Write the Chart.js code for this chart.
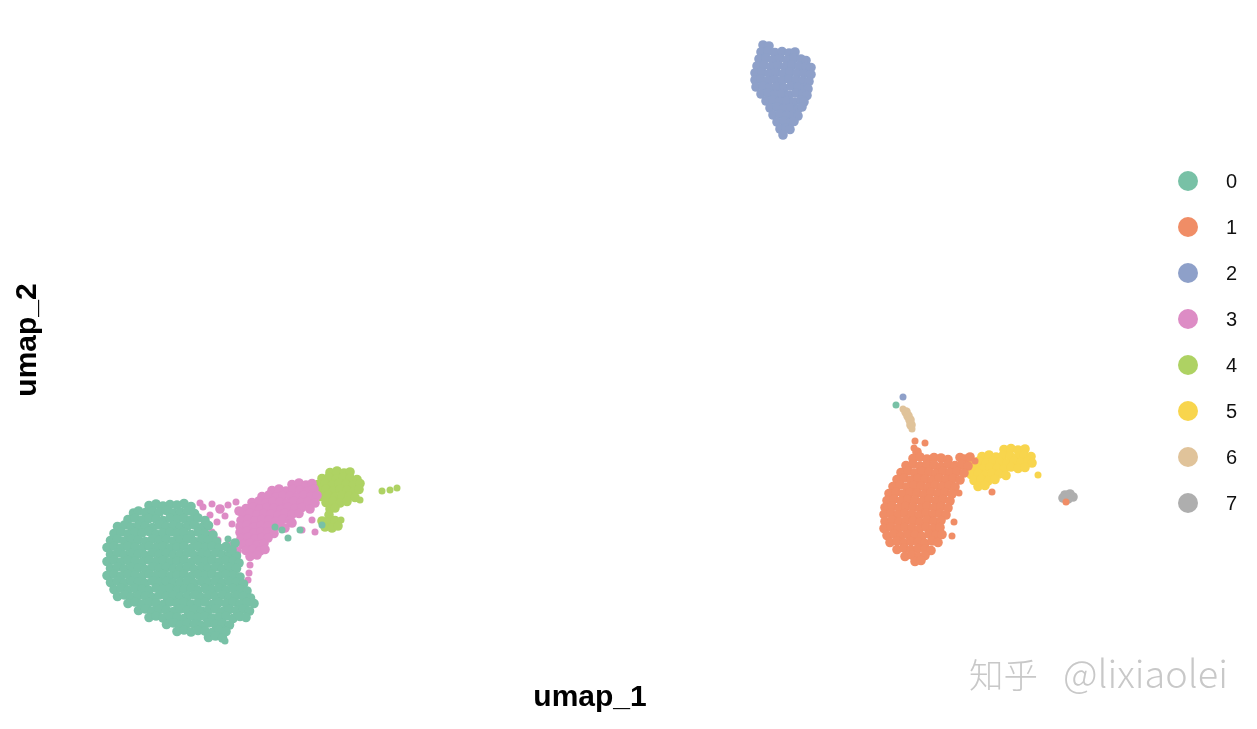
<!DOCTYPE html>
<html>
<head>
<meta charset="utf-8">
<title>umap</title>
<script src="https://cdn.jsdelivr.net/npm/chart.js@4.4.0/dist/chart.umd.min.js"></script>
<style>
html, body { margin: 0; padding: 0; background: #fff; }
#wrap { width: 1257px; height: 729px; position: relative; }
</style>
</head>
<body>
<div id="wrap"><canvas id="chart-umap"></canvas></div>
<script>
//cluster names + colours (Set2 as it looks in the picture)
var clusters = ['0', '1', '2', '3', '4', '5', '6', '7'];
var colors = ['#78C1A6', '#F08D66', '#8EA0C9', '#DD8CC5', '#AED263', '#F8D54D', '#E0C39A', '#AEAEAE'];

//umap coordinates, [umap_1, umap_2]
var umap0 = [
  [-9.02,-3.11],[-8.88,-3.08],[-8.74,-3.12],[-8.60,-3.09],[-8.46,-3.10],[-8.32,-3.07],[-8.18,-3.13],
  [-9.33,-3.26],[-9.23,-3.22],[-9.09,-3.25],[-8.95,-3.23],[-8.81,-3.24],[-8.67,-3.21],[-8.53,-3.26],[-8.39,-3.24],[-8.25,-3.22],[-8.11,-3.27],
  [-9.44,-3.39],[-9.30,-3.36],[-9.16,-3.40],[-9.02,-3.37],[-8.88,-3.38],[-8.74,-3.41],[-8.60,-3.36],[-8.46,-3.39],[-8.32,-3.37],[-8.18,-3.40],[-8.04,-3.36],[-7.90,-3.41],
  [-9.65,-3.53],[-9.51,-3.50],[-9.37,-3.54],[-9.23,-3.51],[-9.09,-3.52],[-8.95,-3.55],[-8.81,-3.50],[-8.67,-3.53],[-8.53,-3.51],[-8.39,-3.54],[-8.25,-3.52],[-8.11,-3.50],[-7.97,-3.55],[-7.83,-3.51],
  [-9.72,-3.67],[-9.58,-3.64],[-9.44,-3.68],[-9.30,-3.65],[-9.16,-3.66],[-9.02,-3.63],[-8.88,-3.68],[-8.74,-3.66],[-8.60,-3.64],[-8.46,-3.67],[-8.32,-3.65],[-8.18,-3.69],[-8.04,-3.64],[-7.90,-3.67],[-7.74,-3.70],
  [-9.79,-3.81],[-9.65,-3.78],[-9.51,-3.82],[-9.37,-3.79],[-9.23,-3.80],[-9.09,-3.83],[-8.95,-3.78],[-8.81,-3.81],[-8.67,-3.79],[-8.53,-3.82],[-8.39,-3.80],[-8.25,-3.78],[-8.11,-3.83],[-7.97,-3.79],[-7.83,-3.81],[-7.67,-3.84],
  [-9.86,-3.95],[-9.72,-3.92],[-9.58,-3.96],[-9.44,-3.93],[-9.30,-3.94],[-9.16,-3.97],[-9.02,-3.92],[-8.88,-3.95],[-8.74,-3.93],[-8.60,-3.96],[-8.46,-3.94],[-8.32,-3.92],[-8.18,-3.97],[-8.04,-3.93],[-7.90,-3.95],[-7.76,-3.92],[-7.62,-3.96],[-7.48,-3.93],
  [-9.79,-4.09],[-9.65,-4.06],[-9.51,-4.10],[-9.37,-4.07],[-9.23,-4.08],[-9.09,-4.11],[-8.95,-4.06],[-8.81,-4.09],[-8.67,-4.07],[-8.53,-4.10],[-8.39,-4.08],[-8.25,-4.06],[-8.11,-4.11],[-7.97,-4.07],[-7.83,-4.09],[-7.69,-4.06],[-7.55,-4.10],[-7.41,-4.08],[-7.27,-4.12],
  [-9.86,-4.23],[-9.72,-4.20],[-9.58,-4.24],[-9.44,-4.21],[-9.30,-4.22],[-9.16,-4.25],[-9.02,-4.20],[-8.88,-4.23],[-8.74,-4.21],[-8.60,-4.24],[-8.46,-4.22],[-8.32,-4.20],[-8.18,-4.25],[-8.04,-4.21],[-7.90,-4.23],[-7.76,-4.20],[-7.62,-4.24],[-7.48,-4.21],[-7.34,-4.22],[-7.22,-4.26],
  [-9.79,-4.37],[-9.65,-4.34],[-9.51,-4.38],[-9.37,-4.35],[-9.23,-4.36],[-9.09,-4.39],[-8.95,-4.34],[-8.81,-4.37],[-8.67,-4.35],[-8.53,-4.38],[-8.39,-4.36],[-8.25,-4.34],[-8.11,-4.39],[-7.97,-4.35],[-7.83,-4.37],[-7.69,-4.34],[-7.55,-4.38],[-7.41,-4.35],[-7.27,-4.37],
  [-9.86,-4.51],[-9.72,-4.48],[-9.58,-4.52],[-9.44,-4.49],[-9.30,-4.50],[-9.16,-4.53],[-9.02,-4.48],[-8.88,-4.51],[-8.74,-4.49],[-8.60,-4.52],[-8.46,-4.50],[-8.32,-4.48],[-8.18,-4.53],[-8.04,-4.49],[-7.90,-4.51],[-7.76,-4.48],[-7.62,-4.52],[-7.48,-4.49],[-7.34,-4.51],[-7.20,-4.54],
  [-9.79,-4.65],[-9.65,-4.62],[-9.51,-4.66],[-9.37,-4.63],[-9.23,-4.64],[-9.09,-4.67],[-8.95,-4.62],[-8.81,-4.65],[-8.67,-4.63],[-8.53,-4.66],[-8.39,-4.64],[-8.25,-4.62],[-8.11,-4.67],[-7.97,-4.63],[-7.83,-4.65],[-7.69,-4.62],[-7.55,-4.66],[-7.41,-4.63],[-7.27,-4.65],[-7.13,-4.68],
  [-9.72,-4.79],[-9.58,-4.76],[-9.44,-4.80],[-9.30,-4.77],[-9.16,-4.78],[-9.02,-4.81],[-8.88,-4.76],[-8.74,-4.79],[-8.60,-4.77],[-8.46,-4.80],[-8.32,-4.78],[-8.18,-4.76],[-8.04,-4.81],[-7.90,-4.77],[-7.76,-4.79],[-7.62,-4.76],[-7.48,-4.80],[-7.34,-4.77],[-7.20,-4.79],[-7.06,-4.82],
  [-9.65,-4.93],[-9.51,-4.90],[-9.37,-4.94],[-9.23,-4.91],[-9.09,-4.92],[-8.95,-4.95],[-8.81,-4.90],[-8.67,-4.93],[-8.53,-4.91],[-8.39,-4.94],[-8.25,-4.92],[-8.11,-4.90],[-7.97,-4.95],[-7.83,-4.91],[-7.69,-4.93],[-7.55,-4.90],[-7.41,-4.94],[-7.27,-4.91],[-7.13,-4.93],[-6.99,-4.96],
  [-9.44,-5.07],[-9.30,-5.04],[-9.16,-5.08],[-9.02,-5.05],[-8.88,-5.06],[-8.74,-5.09],[-8.60,-5.04],[-8.46,-5.07],[-8.32,-5.05],[-8.18,-5.08],[-8.04,-5.06],[-7.90,-5.04],[-7.76,-5.09],[-7.62,-5.05],[-7.48,-5.07],[-7.34,-5.04],[-7.20,-5.08],[-7.06,-5.05],[-6.92,-5.07],
  [-9.23,-5.21],[-9.09,-5.18],[-8.95,-5.22],[-8.81,-5.19],[-8.67,-5.20],[-8.53,-5.23],[-8.39,-5.18],[-8.25,-5.21],[-8.11,-5.19],[-7.97,-5.22],[-7.83,-5.20],[-7.69,-5.18],[-7.55,-5.23],[-7.41,-5.19],[-7.27,-5.21],[-7.13,-5.18],[-7.01,-5.22],
  [-9.02,-5.35],[-8.88,-5.32],[-8.74,-5.36],[-8.60,-5.33],[-8.46,-5.34],[-8.32,-5.37],[-8.18,-5.32],[-8.04,-5.35],[-7.90,-5.33],[-7.76,-5.36],[-7.62,-5.34],[-7.48,-5.32],[-7.34,-5.37],[-7.20,-5.33],[-7.08,-5.35],
  [-8.67,-5.49],[-8.53,-5.46],[-8.39,-5.50],[-8.25,-5.47],[-8.11,-5.48],[-7.97,-5.51],[-7.83,-5.46],[-7.69,-5.49],[-7.55,-5.47],[-7.41,-5.50],
  [-8.46,-5.63],[-8.32,-5.60],[-8.18,-5.64],[-8.04,-5.61],[-7.90,-5.62],[-7.76,-5.65],[-7.62,-5.60],[-7.48,-5.63],
  [-7.83,-5.75],[-7.69,-5.72],[-7.55,-5.76],[-7.50,-5.82],
  [-7.44,-3.78],[-7.30,-3.86],[-7.36,-4.00],[-6.50,-3.54],[-6.36,-3.60],[-6.24,-3.76],[-6.00,-3.60],[-5.56,-3.50],
  [5.92,-1.10]
];
var umap1 = [
  [6.30,-1.82],[6.50,-1.86],[6.34,-2.04],[6.28,-1.96],
  [6.26,-2.17],[6.40,-2.14],[6.54,-2.18],[6.68,-2.15],[6.82,-2.16],[6.96,-2.19],[7.20,-2.15],[7.30,-2.18],
  [6.12,-2.31],[6.26,-2.28],[6.40,-2.32],[6.54,-2.29],[6.68,-2.30],[6.82,-2.33],[6.96,-2.28],[7.10,-2.31],[7.24,-2.29],[7.36,-2.32],
  [6.02,-2.45],[6.16,-2.42],[6.30,-2.46],[6.44,-2.43],[6.58,-2.44],[6.72,-2.47],[6.86,-2.42],[7.00,-2.45],[7.14,-2.43],[7.28,-2.46],
  [5.94,-2.59],[6.08,-2.56],[6.22,-2.60],[6.36,-2.57],[6.50,-2.58],[6.64,-2.61],[6.78,-2.56],[6.92,-2.59],[7.06,-2.57],[7.20,-2.60],
  [5.86,-2.73],[6.00,-2.70],[6.14,-2.74],[6.28,-2.71],[6.42,-2.72],[6.56,-2.75],[6.70,-2.70],[6.84,-2.73],[6.98,-2.71],[7.10,-2.74],
  [5.78,-2.87],[5.92,-2.84],[6.06,-2.88],[6.20,-2.85],[6.34,-2.86],[6.48,-2.89],[6.62,-2.84],[6.76,-2.87],[6.90,-2.85],[7.04,-2.88],[7.18,-2.86],
  [5.74,-3.01],[5.88,-2.98],[6.02,-3.02],[6.16,-2.99],[6.30,-3.00],[6.44,-3.03],[6.58,-2.98],[6.72,-3.01],[6.86,-2.99],[7.00,-3.02],
  [5.70,-3.15],[5.84,-3.12],[5.98,-3.16],[6.12,-3.13],[6.26,-3.14],[6.40,-3.17],[6.54,-3.12],[6.68,-3.15],[6.82,-3.13],[6.96,-3.16],
  [5.68,-3.29],[5.82,-3.26],[5.96,-3.30],[6.10,-3.27],[6.24,-3.28],[6.38,-3.31],[6.52,-3.26],[6.66,-3.29],[6.80,-3.27],[6.92,-3.30],
  [5.70,-3.43],[5.84,-3.40],[5.98,-3.44],[6.12,-3.41],[6.26,-3.42],[6.40,-3.45],[6.54,-3.40],[6.68,-3.43],[6.82,-3.41],[7.08,-3.44],
  [5.68,-3.57],[5.82,-3.54],[5.96,-3.58],[6.10,-3.55],[6.24,-3.56],[6.38,-3.59],[6.52,-3.54],[6.66,-3.57],[6.80,-3.55],
  [5.74,-3.71],[5.88,-3.68],[6.02,-3.72],[6.16,-3.69],[6.30,-3.70],[6.44,-3.73],[6.58,-3.68],[6.72,-3.71],[6.84,-3.69],[7.04,-3.72],
  [5.80,-3.85],[5.94,-3.82],[6.08,-3.86],[6.22,-3.83],[6.36,-3.84],[6.50,-3.87],[6.64,-3.82],[6.76,-3.85],
  [5.94,-3.99],[6.08,-3.96],[6.22,-4.00],[6.36,-3.97],[6.50,-3.98],[6.62,-4.01],
  [6.10,-4.13],[6.24,-4.10],[6.38,-4.14],[6.50,-4.11],
  [6.30,-4.23],[6.42,-4.21],
  [7.40,-2.14],[7.50,-2.22],[7.84,-2.84],[9.32,-3.04]
];
var umap2 = [
  [3.26,6.10],[3.38,6.08],
  [3.22,5.96],[3.36,5.98],[3.50,5.95],[3.64,5.97],[3.78,5.94],[3.90,5.96],
  [3.18,5.82],[3.32,5.84],[3.46,5.81],[3.60,5.83],[3.74,5.80],[3.88,5.84],[4.02,5.82],[4.12,5.79],
  [3.14,5.68],[3.28,5.70],[3.42,5.67],[3.56,5.69],[3.70,5.66],[3.84,5.70],[3.98,5.68],[4.12,5.67],[4.22,5.65],
  [3.10,5.54],[3.24,5.56],[3.38,5.53],[3.52,5.55],[3.66,5.52],[3.80,5.56],[3.94,5.54],[4.08,5.53],[4.22,5.51],
  [3.10,5.40],[3.22,5.42],[3.36,5.39],[3.50,5.41],[3.64,5.38],[3.78,5.42],[3.92,5.40],[4.06,5.39],[4.18,5.37],
  [3.12,5.26],[3.26,5.28],[3.40,5.25],[3.54,5.27],[3.68,5.24],[3.82,5.28],[3.96,5.26],[4.10,5.25],[4.16,5.22],
  [3.22,5.12],[3.36,5.14],[3.50,5.11],[3.64,5.13],[3.78,5.10],[3.92,5.14],[4.06,5.12],[4.14,5.09],
  [3.32,4.98],[3.46,5.00],[3.60,4.97],[3.74,4.99],[3.88,4.96],[4.02,5.00],[4.08,4.96],
  [3.40,4.84],[3.54,4.86],[3.68,4.83],[3.82,4.85],[3.96,4.82],[4.04,4.86],
  [3.46,4.70],[3.60,4.72],[3.74,4.69],[3.88,4.71],[3.96,4.68],
  [3.54,4.56],[3.68,4.58],[3.82,4.55],[3.88,4.57],
  [3.60,4.42],[3.72,4.44],[3.80,4.41],
  [3.66,4.30],
  [6.06,-0.94]
];
var umap3 = [
  [-6.16,-2.69],[-6.02,-2.66],[-5.88,-2.70],[-5.76,-2.67],
  [-6.56,-2.81],[-6.42,-2.78],[-6.28,-2.82],[-6.14,-2.79],[-6.00,-2.80],[-5.86,-2.83],[-5.72,-2.78],
  [-6.76,-2.93],[-6.62,-2.90],[-6.48,-2.94],[-6.34,-2.91],[-6.20,-2.92],[-6.06,-2.95],[-5.92,-2.90],[-5.78,-2.93],[-5.66,-2.91],
  [-6.96,-3.05],[-6.82,-3.02],[-6.68,-3.06],[-6.54,-3.03],[-6.40,-3.04],[-6.26,-3.07],[-6.12,-3.02],[-5.98,-3.05],[-5.84,-3.03],[-5.70,-3.06],
  [-7.08,-3.17],[-6.94,-3.14],[-6.80,-3.18],[-6.66,-3.15],[-6.52,-3.16],[-6.38,-3.19],[-6.24,-3.14],[-6.10,-3.17],[-5.96,-3.15],[-5.80,-3.18],
  [-7.14,-3.29],[-7.00,-3.26],[-6.86,-3.30],[-6.72,-3.27],[-6.58,-3.28],[-6.44,-3.31],[-6.30,-3.26],[-6.16,-3.29],[-6.02,-3.27],
  [-7.18,-3.41],[-7.04,-3.38],[-6.90,-3.42],[-6.76,-3.39],[-6.62,-3.40],[-6.48,-3.43],[-6.34,-3.38],[-6.20,-3.41],
  [-7.20,-3.53],[-7.06,-3.50],[-6.92,-3.54],[-6.78,-3.51],[-6.64,-3.52],[-6.50,-3.55],[-6.40,-3.50],
  [-7.20,-3.65],[-7.06,-3.62],[-6.92,-3.66],[-6.78,-3.63],[-6.64,-3.64],[-6.52,-3.67],
  [-7.18,-3.77],[-7.04,-3.74],[-6.90,-3.78],[-6.76,-3.75],[-6.64,-3.76],
  [-7.14,-3.89],[-7.00,-3.86],[-6.86,-3.90],[-6.72,-3.87],
  [-7.08,-4.01],[-6.94,-3.98],[-6.80,-4.02],[-6.70,-3.99],
  [-7.00,-4.13],[-6.86,-4.10],
  [-7.00,-4.30],[-7.02,-4.46],[-7.04,-4.60],[-7.14,-4.66],
  [-6.16,-3.46],[-5.76,-3.40],[-5.70,-3.64],[-5.96,-3.60],[-6.30,-3.56],
  [-8.00,-3.06],[-7.94,-3.14],[-7.76,-3.08],[-7.60,-3.18],[-7.44,-3.10],[-7.28,-3.04],[-7.80,-3.30],[-7.50,-3.32],
  [-7.36,-3.48],[-7.66,-3.44],[-7.76,-3.64],[-7.64,-3.80],[-7.22,-3.22],[-7.40,-3.90],[-7.26,-4.02]
];
var umap4 = [
  [-5.40,-2.45],[-5.26,-2.42],[-5.12,-2.46],[-5.00,-2.44],
  [-5.56,-2.57],[-5.42,-2.54],[-5.28,-2.58],[-5.14,-2.55],[-5.00,-2.56],[-4.86,-2.59],
  [-5.64,-2.69],[-5.50,-2.66],[-5.36,-2.70],[-5.22,-2.67],[-5.08,-2.68],[-4.94,-2.71],[-4.80,-2.67],
  [-5.62,-2.81],[-5.48,-2.78],[-5.34,-2.82],[-5.20,-2.79],[-5.06,-2.80],[-4.92,-2.83],[-4.82,-2.79],
  [-5.58,-2.93],[-5.44,-2.90],[-5.30,-2.94],[-5.16,-2.91],[-5.02,-2.92],[-4.90,-2.95],
  [-5.48,-3.05],[-5.34,-3.02],[-5.20,-3.06],[-5.06,-3.03],
  [-5.40,-3.18],[-5.30,-3.16],[-5.42,-3.30],
  [-5.56,-3.42],[-5.44,-3.44],[-5.30,-3.41],[-5.18,-3.40],
  [-5.50,-3.54],[-5.36,-3.56],[-5.24,-3.52],
  [-4.36,-2.82],[-4.20,-2.80],[-4.06,-2.76],[-4.80,-3.00]
];
var umap5 = [
  [8.08,-1.99],[8.22,-1.97],[8.36,-2.00],[8.50,-1.98],
  [7.64,-2.13],[7.78,-2.10],[7.92,-2.14],[8.06,-2.11],[8.20,-2.12],[8.34,-2.15],[8.48,-2.10],[8.62,-2.13],
  [7.44,-2.25],[7.58,-2.22],[7.72,-2.26],[7.86,-2.23],[8.00,-2.24],[8.14,-2.27],[8.28,-2.22],[8.42,-2.25],[8.56,-2.23],[8.64,-2.26],
  [7.38,-2.37],[7.52,-2.34],[7.66,-2.38],[7.80,-2.35],[7.94,-2.36],[8.08,-2.39],[8.22,-2.34],[8.36,-2.37],[8.50,-2.35],
  [7.42,-2.49],[7.56,-2.46],[7.70,-2.50],[7.84,-2.47],[7.98,-2.48],[8.12,-2.51],
  [7.48,-2.61],[7.62,-2.58],[7.76,-2.62],[7.90,-2.59],
  [7.56,-2.73],[7.70,-2.71],
  [8.76,-2.50]
];
var umap6 = [[6.06,-1.18],[6.12,-1.24],[6.16,-1.32],[6.20,-1.40],[6.22,-1.50],[6.24,-1.58]];
var umap7 = [[9.30,-2.90],[9.40,-2.88],[9.46,-2.94],[9.36,-2.98],[9.26,-2.96]];

var umapPoints = [umap0, umap1, umap2, umap3, umap4, umap5, umap6, umap7];

//dots inside a crowd get a bit bigger so the cluster reads as one solid blob,
//loose dots keep the small size
function dotSizes(pts) {
    return pts.map(function(p) {
        var near = 0;
        for (var j = 0; j < pts.length; j++) {
            var dx = pts[j][0] - p[0], dy = pts[j][1] - p[1];
            if (dx * dx + dy * dy < 0.04) near++;
        }
        return near > 3 ? 4.8 : 3.5;
    });
}

//axis titles, legend and the watermark are drawn by hand after the points
var extraText = {
    id: 'extraText',
    afterDraw: function(chart) {
        var ctx = chart.ctx;
        ctx.save();
        ctx.fillStyle = '#000';

        ctx.font = "bold 30px 'Liberation Sans', Arial, sans-serif";
        ctx.textAlign = 'center';
        ctx.textBaseline = 'alphabetic';
        ctx.fillText('umap_1', 590, 706);

        ctx.save();
        ctx.translate(36, 340);
        ctx.rotate(-Math.PI / 2);
        ctx.fillText('umap_2', 0, 0);
        ctx.restore();

        //legend
        ctx.textAlign = 'left';
        ctx.textBaseline = 'middle';
        ctx.font = "20px 'Liberation Sans', Arial, sans-serif";
        for (var i = 0; i < clusters.length; i++) {
            var y = 181 + i * 46;
            ctx.fillStyle = colors[i];
            ctx.beginPath();
            ctx.arc(1188, y, 10, 0, Math.PI * 2);
            ctx.fill();
            ctx.fillStyle = '#111';
            ctx.fillText(clusters[i], 1226, y + 1);
        }

        //watermark
        ctx.fillStyle = '#c8c8c8';
        ctx.textBaseline = 'alphabetic';
        ctx.font = "300 32px 'Noto Sans CJK SC', sans-serif";
        var w1 = ctx.measureText('知乎').width;
        ctx.font = "300 " + (32 * 69 / w1).toFixed(1) + "px 'Noto Sans CJK SC', sans-serif";
        ctx.fillText('知乎', 969, 688);
        ctx.font = "300 34px 'Noto Sans CJK SC', sans-serif";
        var w2 = ctx.measureText('@lixiaolei').width;
        ctx.font = "300 " + (34 * 165 / w2).toFixed(1) + "px 'Noto Sans CJK SC', sans-serif";
        ctx.fillText('@lixiaolei', 1063, 688);
        ctx.restore();
    }
};

const ctx = document.getElementById('chart-umap').getContext('2d');
const myChart = new Chart(ctx, {
    type: 'scatter',
    data: {
        datasets: umapPoints.map(function(pts, i) {
            var sizes = dotSizes(pts);
            return {
                label: clusters[i],
                data: pts.map(function(p) { return {x: p[0], y: p[1]}; }),
                backgroundColor: colors[i],
                borderColor: colors[i],
                pointBackgroundColor: colors[i],
                pointBorderColor: colors[i],
                pointBorderWidth: 0,
                borderWidth: 0,
                pointRadius: sizes,
                pointHoverRadius: sizes
            };
        })
    },
    options: {
        responsive: true,
        maintainAspectRatio: false,
        animation: false,
        events: [],
        layout: {
            padding: {left: 56, right: 133, top: 12, bottom: 61}
        },
        plugins: {
            legend: {display: false},
            tooltip: {enabled: false}
        },
        scales: {
            x: {type: 'linear', display: false, min: -10.88, max: 10.48},
            y: {type: 'linear', display: false, min: -6.36, max: 6.76}
        }
    },
    plugins: [extraText]
});
</script>
</body>
</html>
